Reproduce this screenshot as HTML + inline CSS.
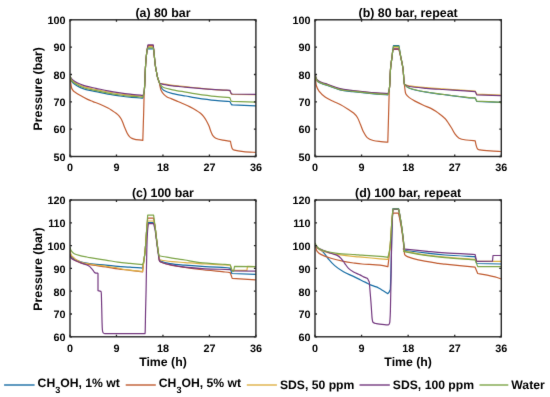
<!DOCTYPE html><html><head><meta charset="utf-8"><style>html,body{margin:0;padding:0;background:#fff;}svg{display:block;}text{font-family:"Liberation Sans",sans-serif;font-weight:bold;fill:#000000;text-rendering:geometricPrecision;}</style></head><body>
<svg width="550" height="397" viewBox="0 0 550 397">
<defs><filter id="bl" x="0" y="0" width="550" height="397" filterUnits="userSpaceOnUse" color-interpolation-filters="sRGB"><feConvolveMatrix order="3" kernelMatrix="0.0064 0.0672 0.0064 0.0672 0.7056 0.0672 0.0064 0.0672 0.0064" divisor="1" edgeMode="none" preserveAlpha="false"/></filter>
<filter id="bt" x="0" y="0" width="550" height="397" filterUnits="userSpaceOnUse" color-interpolation-filters="sRGB"><feConvolveMatrix order="3" kernelMatrix="0.0049 0.0602 0.0049 0.0602 0.7396 0.0602 0.0049 0.0602 0.0049" divisor="1" edgeMode="none" preserveAlpha="false"/></filter>
<clipPath id="cpa"><rect x="70.00" y="19.80" width="185.90" height="136.70"/></clipPath>
<clipPath id="cpb"><rect x="315.00" y="19.80" width="186.30" height="136.70"/></clipPath>
<clipPath id="cpc"><rect x="70.00" y="200.00" width="185.90" height="136.80"/></clipPath>
<clipPath id="cpd"><rect x="315.00" y="200.00" width="186.30" height="136.80"/></clipPath>
</defs>
<rect width="550" height="397" fill="#fff"/>
<g filter="url(#bl)">
<g clip-path="url(#cpa)" fill="none" stroke-width="1.20" stroke-linejoin="round" stroke-linecap="round">
<path d="M70.30,78.50 C70.53,79.00 70.92,80.48 71.70,81.50 C72.48,82.52 73.62,83.62 75.00,84.60 C76.38,85.58 78.17,86.57 80.00,87.40 C81.83,88.23 83.33,88.88 86.00,89.60 C88.67,90.32 92.33,90.93 96.00,91.70 C99.67,92.47 104.00,93.48 108.00,94.20 C112.00,94.92 116.33,95.50 120.00,96.00 C123.67,96.50 126.20,96.83 130.00,97.20 C133.80,97.57 140.67,98.03 142.80,98.20 C143.00,97.33 143.68,95.20 144.00,93.00 C144.32,90.80 144.52,88.00 144.70,85.00 C144.88,82.00 144.95,78.33 145.10,75.00 C145.25,71.67 145.38,68.25 145.60,65.00 C145.82,61.75 146.13,58.08 146.40,55.50 C146.67,52.92 146.93,50.60 147.20,49.50 C147.47,48.40 147.87,49.00 148.00,48.90 L153.20,48.90 C153.30,49.17 153.47,47.90 153.80,50.50 C154.13,53.10 154.75,60.92 155.20,64.50 C155.65,68.08 156.08,69.77 156.50,72.00 C156.92,74.23 157.18,76.02 157.70,77.90 C158.22,79.78 159.28,82.40 159.60,83.30 C159.73,83.75 159.73,84.85 160.40,86.00 C161.07,87.15 161.55,88.93 163.60,90.20 C165.65,91.47 168.98,92.63 172.70,93.60 C176.42,94.57 182.02,95.30 185.90,96.00 C189.78,96.70 191.15,97.07 196.00,97.80 C200.85,98.53 209.35,99.78 215.00,100.40 C220.65,101.02 227.42,101.32 229.90,101.50 C230.17,102.00 231.02,103.93 231.50,104.50 C231.98,105.07 232.58,104.83 232.80,104.90 L255.70,105.80" stroke="#166CA4"/>
<path d="M70.20,77.50 C70.28,78.33 70.45,80.70 70.70,82.50 C70.95,84.30 71.23,86.88 71.70,88.30 C72.17,89.72 72.85,90.30 73.50,91.00 C74.15,91.70 74.52,91.78 75.60,92.50 C76.68,93.22 78.00,94.15 80.00,95.30 C82.00,96.45 85.43,98.35 87.60,99.40 C89.77,100.45 90.93,100.80 93.00,101.60 C95.07,102.40 97.50,103.13 100.00,104.20 C102.50,105.27 106.00,106.97 108.00,108.00 C110.00,109.03 110.65,109.53 112.00,110.40 C113.35,111.27 114.93,112.30 116.10,113.20 C117.27,114.10 118.15,114.83 119.00,115.80 C119.85,116.77 120.53,117.80 121.20,119.00 C121.87,120.20 122.40,121.53 123.00,123.00 C123.60,124.47 124.10,126.10 124.80,127.80 C125.50,129.50 126.42,131.73 127.20,133.20 C127.98,134.67 128.70,135.73 129.50,136.60 C130.30,137.47 131.08,137.95 132.00,138.40 C132.92,138.85 133.20,138.97 135.00,139.30 C136.80,139.63 141.50,140.22 142.80,140.40 C142.93,136.17 143.38,122.57 143.60,115.00 C143.82,107.43 143.92,100.00 144.10,95.00 C144.28,90.00 144.53,88.33 144.70,85.00 C144.87,81.67 144.95,78.33 145.10,75.00 C145.25,71.67 145.38,68.25 145.60,65.00 C145.82,61.75 146.13,58.08 146.40,55.50 C146.67,52.92 146.93,51.15 147.20,49.50 C147.47,47.85 147.87,46.25 148.00,45.60 L153.20,45.60 C153.30,46.50 153.47,47.85 153.80,51.00 C154.13,54.15 154.75,61.00 155.20,64.50 C155.65,68.00 156.08,69.77 156.50,72.00 C156.92,74.23 157.18,75.97 157.70,77.90 C158.22,79.83 159.28,82.65 159.60,83.60 C159.70,84.17 159.93,85.83 160.20,87.00 C160.47,88.17 160.63,89.42 161.20,90.60 C161.77,91.78 162.63,93.05 163.60,94.10 C164.57,95.15 165.75,96.15 167.00,96.90 C168.25,97.65 169.43,97.90 171.10,98.60 C172.77,99.30 175.10,100.28 177.00,101.10 C178.90,101.92 180.33,102.53 182.50,103.50 C184.67,104.47 187.75,105.78 190.00,106.90 C192.25,108.02 194.25,109.13 196.00,110.20 C197.75,111.27 199.25,112.28 200.50,113.30 C201.75,114.32 202.57,115.15 203.50,116.30 C204.43,117.45 205.20,118.62 206.10,120.20 C207.00,121.78 208.10,123.92 208.90,125.80 C209.70,127.68 210.22,129.83 210.90,131.50 C211.58,133.17 212.18,134.68 213.00,135.80 C213.82,136.92 214.18,137.47 215.80,138.20 C217.42,138.93 220.40,139.70 222.70,140.20 C225.00,140.70 228.30,140.97 229.60,141.20 C230.90,141.43 230.35,141.53 230.50,141.60 C230.63,142.25 231.00,144.33 231.30,145.50 C231.60,146.67 231.77,147.82 232.30,148.60 C232.83,149.38 232.63,149.70 234.50,150.20 C236.37,150.70 239.97,151.23 243.50,151.60 C247.03,151.97 253.67,152.27 255.70,152.40" stroke="#C05B30"/>
<path d="M70.30,77.30 C70.53,77.72 70.92,78.92 71.70,79.80 C72.48,80.68 73.62,81.70 75.00,82.60 C76.38,83.50 78.17,84.40 80.00,85.20 C81.83,86.00 83.33,86.68 86.00,87.40 C88.67,88.12 92.33,88.73 96.00,89.50 C99.67,90.27 104.00,91.25 108.00,92.00 C112.00,92.75 116.33,93.47 120.00,94.00 C123.67,94.53 126.20,94.82 130.00,95.20 C133.80,95.58 140.67,96.12 142.80,96.30 C143.00,95.75 143.68,94.88 144.00,93.00 C144.32,91.12 144.52,88.00 144.70,85.00 C144.88,82.00 144.95,78.33 145.10,75.00 C145.25,71.67 145.38,68.25 145.60,65.00 C145.82,61.75 146.13,58.08 146.40,55.50 C146.67,52.92 146.93,50.98 147.20,49.50 C147.47,48.02 147.87,47.08 148.00,46.60 L153.20,46.60 C153.30,47.25 153.47,47.52 153.80,50.50 C154.13,53.48 154.75,60.92 155.20,64.50 C155.65,68.08 156.08,69.77 156.50,72.00 C156.92,74.23 157.18,76.02 157.70,77.90 C158.22,79.78 159.28,82.40 159.60,83.30 C160.50,83.18 162.82,83.72 165.00,84.10 C167.18,84.48 169.37,84.88 172.70,85.30 C176.03,85.72 180.62,86.12 185.00,86.60 C189.38,87.08 194.00,87.68 199.00,88.20 C204.00,88.72 209.85,89.30 215.00,89.70 C220.15,90.10 227.42,90.45 229.90,90.60 C230.13,91.15 230.87,93.28 231.30,93.90 C231.73,94.52 232.30,94.23 232.50,94.30 L255.70,94.70" stroke="#DEB145"/>
<path d="M70.30,76.80 C70.53,77.13 70.92,78.02 71.70,78.80 C72.48,79.58 73.62,80.63 75.00,81.50 C76.38,82.37 78.17,83.22 80.00,84.00 C81.83,84.78 83.33,85.48 86.00,86.20 C88.67,86.92 92.33,87.52 96.00,88.30 C99.67,89.08 104.00,90.13 108.00,90.90 C112.00,91.67 116.33,92.35 120.00,92.90 C123.67,93.45 126.20,93.78 130.00,94.20 C133.80,94.62 140.67,95.20 142.80,95.40 C143.00,95.00 143.68,94.73 144.00,93.00 C144.32,91.27 144.52,88.00 144.70,85.00 C144.88,82.00 144.95,78.33 145.10,75.00 C145.25,71.67 145.38,68.25 145.60,65.00 C145.82,61.75 146.13,58.08 146.40,55.50 C146.67,52.92 146.93,51.27 147.20,49.50 C147.47,47.73 147.87,45.67 148.00,44.90 L153.20,44.90 C153.30,45.83 153.47,47.23 153.80,50.50 C154.13,53.77 154.75,60.92 155.20,64.50 C155.65,68.08 156.08,69.77 156.50,72.00 C156.92,74.23 157.18,76.02 157.70,77.90 C158.22,79.78 159.28,82.40 159.60,83.30 C160.50,83.53 162.82,84.27 165.00,84.70 C167.18,85.13 169.37,85.50 172.70,85.90 C176.03,86.30 180.62,86.68 185.00,87.10 C189.38,87.52 194.00,87.98 199.00,88.40 C204.00,88.82 209.85,89.28 215.00,89.60 C220.15,89.92 227.42,90.18 229.90,90.30 C230.13,90.85 230.87,92.98 231.30,93.60 C231.73,94.22 232.30,93.93 232.50,94.00 L255.70,94.40" stroke="#73387F"/>
<path d="M70.30,76.30 C70.53,77.02 70.92,79.38 71.70,80.60 C72.48,81.82 73.62,82.65 75.00,83.60 C76.38,84.55 78.17,85.48 80.00,86.30 C81.83,87.12 83.33,87.78 86.00,88.50 C88.67,89.22 92.33,89.83 96.00,90.60 C99.67,91.37 104.00,92.37 108.00,93.10 C112.00,93.83 116.33,94.48 120.00,95.00 C123.67,95.52 126.20,95.83 130.00,96.20 C133.80,96.57 140.67,97.03 142.80,97.20 C143.00,96.50 143.68,95.03 144.00,93.00 C144.32,90.97 144.52,88.00 144.70,85.00 C144.88,82.00 144.95,78.33 145.10,75.00 C145.25,71.67 145.38,68.25 145.60,65.00 C145.82,61.75 146.13,58.08 146.40,55.50 C146.67,52.92 146.93,50.78 147.20,49.50 C147.47,48.22 147.87,48.08 148.00,47.80 L153.20,47.80 C153.30,48.25 153.47,47.72 153.80,50.50 C154.13,53.28 154.75,60.92 155.20,64.50 C155.65,68.08 156.08,69.77 156.50,72.00 C156.92,74.23 157.18,76.02 157.70,77.90 C158.22,79.78 159.28,82.40 159.60,83.30 C159.83,83.65 160.33,84.70 161.00,85.40 C161.67,86.10 161.65,86.77 163.60,87.50 C165.55,88.23 168.98,89.03 172.70,89.80 C176.42,90.57 182.02,91.43 185.90,92.10 C189.78,92.77 191.15,93.08 196.00,93.80 C200.85,94.52 209.35,95.77 215.00,96.40 C220.65,97.03 227.42,97.40 229.90,97.60 C230.10,98.17 230.67,100.38 231.10,101.00 C231.53,101.62 232.27,101.25 232.50,101.30 L255.70,102.20" stroke="#7DA548"/>
</g>
<rect x="70.00" y="19.80" width="185.90" height="136.70" fill="none" stroke="#262626" stroke-width="1.40"/>
<path d="M70.00,156.50V154.50M70.00,19.80V21.80M116.47,156.50V154.50M116.47,19.80V21.80M162.95,156.50V154.50M162.95,19.80V21.80M209.43,156.50V154.50M209.43,19.80V21.80M255.90,156.50V154.50M255.90,19.80V21.80M70.00,156.50H72.00M255.90,156.50H253.90M70.00,129.16H72.00M255.90,129.16H253.90M70.00,101.82H72.00M255.90,101.82H253.90M70.00,74.48H72.00M255.90,74.48H253.90M70.00,47.14H72.00M255.90,47.14H253.90M70.00,19.80H72.00M255.90,19.80H253.90" stroke="#262626" stroke-width="1.30" fill="none"/>
<g clip-path="url(#cpb)" fill="none" stroke-width="1.20" stroke-linejoin="round" stroke-linecap="round">
<path d="M315.40,76.10 C315.53,76.65 315.77,78.47 316.20,79.40 C316.63,80.33 317.03,80.98 318.00,81.70 C318.97,82.42 320.32,83.03 322.00,83.70 C323.68,84.37 325.10,84.67 328.10,85.70 C331.10,86.73 335.85,88.90 340.00,89.90 C344.15,90.90 348.83,91.18 353.00,91.70 C357.17,92.22 361.00,92.60 365.00,93.00 C369.00,93.40 373.18,93.80 377.00,94.10 C380.82,94.40 386.08,94.68 387.90,94.80 C388.08,94.17 388.70,92.55 389.00,91.00 C389.30,89.45 389.50,88.17 389.70,85.50 C389.90,82.83 390.05,77.92 390.20,75.00 C390.35,72.08 390.42,70.17 390.60,68.00 C390.78,65.83 391.05,63.92 391.30,62.00 C391.55,60.08 391.87,58.33 392.10,56.50 C392.33,54.67 392.47,52.82 392.70,51.00 C392.93,49.18 393.37,46.50 393.50,45.60 L398.90,45.60 C399.22,47.50 400.12,53.18 400.80,57.00 C401.48,60.82 402.48,64.58 403.00,68.50 C403.52,72.42 403.67,77.90 403.90,80.50 C404.13,83.10 404.32,83.50 404.40,84.10 C405.22,85.20 405.65,86.93 409.30,88.20 C412.95,89.47 420.68,91.15 426.30,92.20 C431.92,93.25 436.55,93.65 443.00,94.50 C449.45,95.35 459.63,96.70 465.00,97.30 C470.37,97.90 473.50,97.97 475.20,98.10 L476.70,101.30 L500.00,102.40" stroke="#166CA4"/>
<path d="M315.30,76.00 C315.37,76.75 315.53,78.92 315.70,80.50 C315.87,82.08 315.75,83.72 316.30,85.50 C316.85,87.28 317.53,89.28 319.00,91.20 C320.47,93.12 322.73,95.32 325.10,97.00 C327.47,98.68 330.68,100.05 333.20,101.30 C335.72,102.55 337.80,103.23 340.20,104.50 C342.60,105.77 345.37,107.48 347.60,108.90 C349.83,110.32 351.97,111.57 353.60,113.00 C355.23,114.43 356.27,115.62 357.40,117.50 C358.53,119.38 359.40,121.92 360.40,124.30 C361.40,126.68 362.27,129.58 363.40,131.80 C364.53,134.02 365.57,136.15 367.20,137.60 C368.83,139.05 370.93,139.83 373.20,140.50 C375.47,141.17 378.37,141.33 380.80,141.60 C383.23,141.87 386.63,142.02 387.80,142.10 C387.92,138.08 388.27,126.35 388.50,118.00 C388.73,109.65 389.00,97.42 389.20,92.00 C389.40,86.58 389.53,88.33 389.70,85.50 C389.87,82.67 390.05,77.92 390.20,75.00 C390.35,72.08 390.42,70.17 390.60,68.00 C390.78,65.83 391.05,63.92 391.30,62.00 C391.55,60.08 391.87,58.33 392.10,56.50 C392.33,54.67 392.47,52.20 392.70,51.00 C392.93,49.80 393.37,49.58 393.50,49.30 L398.90,49.30 C399.22,50.58 400.12,54.23 400.80,57.50 C401.48,60.77 402.48,64.97 403.00,68.80 C403.52,72.63 403.67,77.88 403.90,80.50 C404.13,83.12 404.32,83.83 404.40,84.50 C404.48,85.25 404.65,87.42 404.90,89.00 C405.15,90.58 405.17,92.57 405.90,94.00 C406.63,95.43 407.78,96.42 409.30,97.60 C410.82,98.78 412.73,99.87 415.00,101.10 C417.27,102.33 420.25,103.78 422.90,105.00 C425.55,106.22 428.63,107.27 430.90,108.40 C433.17,109.53 434.98,110.80 436.50,111.80 C438.02,112.80 438.92,113.57 440.00,114.40 C441.08,115.23 442.00,115.93 443.00,116.80 C444.00,117.67 444.65,117.85 446.00,119.60 C447.35,121.35 449.58,124.87 451.10,127.30 C452.62,129.73 453.77,132.38 455.10,134.20 C456.43,136.02 457.25,137.23 459.10,138.20 C460.95,139.17 463.52,139.57 466.20,140.00 C468.88,140.43 473.70,140.67 475.20,140.80 C475.37,141.58 475.80,144.13 476.20,145.50 C476.60,146.87 476.97,148.27 477.60,149.00 C478.23,149.73 477.88,149.58 480.00,149.90 C482.12,150.22 486.90,150.63 490.30,150.90 C493.70,151.17 498.72,151.40 500.40,151.50" stroke="#C05B30"/>
<path d="M315.40,75.30 C315.53,75.85 315.77,77.67 316.20,78.60 C316.63,79.53 317.03,80.18 318.00,80.90 C318.97,81.62 320.32,82.23 322.00,82.90 C323.68,83.57 325.10,83.87 328.10,84.90 C331.10,85.93 335.85,88.10 340.00,89.10 C344.15,90.10 348.83,90.38 353.00,90.90 C357.17,91.42 361.00,91.80 365.00,92.20 C369.00,92.60 373.18,93.00 377.00,93.30 C380.82,93.60 386.08,93.88 387.90,94.00 C388.08,93.50 388.70,92.42 389.00,91.00 C389.30,89.58 389.50,88.17 389.70,85.50 C389.90,82.83 390.05,77.92 390.20,75.00 C390.35,72.08 390.42,70.17 390.60,68.00 C390.78,65.83 391.05,63.92 391.30,62.00 C391.55,60.08 391.87,58.33 392.10,56.50 C392.33,54.67 392.47,52.45 392.70,51.00 C392.93,49.55 393.37,48.33 393.50,47.80 L398.90,47.80 C399.22,49.33 400.12,53.55 400.80,57.00 C401.48,60.45 402.48,64.58 403.00,68.50 C403.52,72.42 403.67,77.90 403.90,80.50 C404.13,83.10 404.32,83.50 404.40,84.10 C405.22,84.32 405.65,85.28 409.30,85.90 C412.95,86.52 420.68,87.20 426.30,87.70 C431.92,88.20 436.55,88.47 443.00,88.90 C449.45,89.33 459.63,89.95 465.00,90.30 C470.37,90.65 473.50,90.88 475.20,91.00 L476.70,94.20 L500.50,95.10" stroke="#DEB145"/>
<path d="M315.40,74.90 C315.53,75.45 315.77,77.27 316.20,78.20 C316.63,79.13 317.03,79.78 318.00,80.50 C318.97,81.22 320.32,81.83 322.00,82.50 C323.68,83.17 325.10,83.47 328.10,84.50 C331.10,85.53 335.85,87.70 340.00,88.70 C344.15,89.70 348.83,89.98 353.00,90.50 C357.17,91.02 361.00,91.40 365.00,91.80 C369.00,92.20 373.18,92.60 377.00,92.90 C380.82,93.20 386.08,93.48 387.90,93.60 C388.08,93.17 388.70,92.35 389.00,91.00 C389.30,89.65 389.50,88.17 389.70,85.50 C389.90,82.83 390.05,77.92 390.20,75.00 C390.35,72.08 390.42,70.17 390.60,68.00 C390.78,65.83 391.05,63.92 391.30,62.00 C391.55,60.08 391.87,58.33 392.10,56.50 C392.33,54.67 392.47,52.28 392.70,51.00 C392.93,49.72 393.37,49.17 393.50,48.80 L398.90,48.80 C399.22,50.17 400.12,53.72 400.80,57.00 C401.48,60.28 402.48,64.58 403.00,68.50 C403.52,72.42 403.67,77.90 403.90,80.50 C404.13,83.10 404.32,83.50 404.40,84.10 C405.22,84.50 405.65,85.80 409.30,86.50 C412.95,87.20 420.68,87.80 426.30,88.30 C431.92,88.80 436.55,89.07 443.00,89.50 C449.45,89.93 459.63,90.55 465.00,90.90 C470.37,91.25 473.50,91.48 475.20,91.60 L476.70,94.80 L500.50,95.70" stroke="#73387F"/>
<path d="M315.40,75.80 C315.53,76.35 315.77,78.17 316.20,79.10 C316.63,80.03 317.03,80.68 318.00,81.40 C318.97,82.12 320.32,82.73 322.00,83.40 C323.68,84.07 325.10,84.37 328.10,85.40 C331.10,86.43 335.85,88.60 340.00,89.60 C344.15,90.60 348.83,90.88 353.00,91.40 C357.17,91.92 361.00,92.30 365.00,92.70 C369.00,93.10 373.18,93.50 377.00,93.80 C380.82,94.10 386.08,94.38 387.90,94.50 C388.08,93.92 388.70,92.50 389.00,91.00 C389.30,89.50 389.50,88.17 389.70,85.50 C389.90,82.83 390.05,77.92 390.20,75.00 C390.35,72.08 390.42,70.17 390.60,68.00 C390.78,65.83 391.05,63.92 391.30,62.00 C391.55,60.08 391.87,58.33 392.10,56.50 C392.33,54.67 392.47,52.68 392.70,51.00 C392.93,49.32 393.37,47.17 393.50,46.40 L398.90,46.40 C399.22,48.17 400.12,53.32 400.80,57.00 C401.48,60.68 402.48,64.58 403.00,68.50 C403.52,72.42 403.67,77.90 403.90,80.50 C404.13,83.10 404.32,83.50 404.40,84.10 C405.22,85.00 405.65,86.73 409.30,88.00 C412.95,89.27 420.68,90.95 426.30,92.00 C431.92,93.05 436.55,93.45 443.00,94.30 C449.45,95.15 459.63,96.50 465.00,97.10 C470.37,97.70 473.50,97.77 475.20,97.90 L476.70,101.10 C480.42,101.27 495.03,101.82 499.00,102.10 C502.97,102.38 500.25,102.68 500.50,102.80" stroke="#7DA548"/>
</g>
<rect x="315.00" y="19.80" width="186.30" height="136.70" fill="none" stroke="#262626" stroke-width="1.40"/>
<path d="M315.00,156.50V154.50M315.00,19.80V21.80M361.57,156.50V154.50M361.57,19.80V21.80M408.15,156.50V154.50M408.15,19.80V21.80M454.73,156.50V154.50M454.73,19.80V21.80M501.30,156.50V154.50M501.30,19.80V21.80M315.00,156.50H317.00M501.30,156.50H499.30M315.00,129.16H317.00M501.30,129.16H499.30M315.00,101.82H317.00M501.30,101.82H499.30M315.00,74.48H317.00M501.30,74.48H499.30M315.00,47.14H317.00M501.30,47.14H499.30M315.00,19.80H317.00M501.30,19.80H499.30" stroke="#262626" stroke-width="1.30" fill="none"/>
<g clip-path="url(#cpc)" fill="none" stroke-width="1.20" stroke-linejoin="round" stroke-linecap="round">
<path d="M70.20,252.40 C70.47,253.23 70.07,255.82 71.80,257.40 C73.53,258.98 77.57,260.87 80.60,261.90 C83.63,262.93 85.80,263.07 90.00,263.60 C94.20,264.13 101.13,264.63 105.80,265.10 C110.47,265.57 113.97,266.07 118.00,266.40 C122.03,266.73 125.90,266.82 130.00,267.10 C134.10,267.38 140.50,267.93 142.60,268.10 C142.82,266.83 143.50,263.18 143.90,260.50 C144.30,257.82 144.65,255.42 145.00,252.00 C145.35,248.58 145.70,244.00 146.00,240.00 C146.30,236.00 146.52,230.92 146.80,228.00 C147.08,225.08 147.55,223.42 147.70,222.50 L153.60,222.50 C153.83,223.08 154.58,223.83 155.00,226.00 C155.42,228.17 155.72,232.33 156.10,235.50 C156.48,238.67 156.92,242.08 157.30,245.00 C157.68,247.92 158.08,250.67 158.40,253.00 C158.72,255.33 159.07,258.00 159.20,259.00 C159.50,259.37 159.18,260.43 161.00,261.20 C162.82,261.97 166.10,262.93 170.10,263.60 C174.10,264.27 179.18,264.68 185.00,265.20 C190.82,265.72 198.33,266.32 205.00,266.70 C211.67,267.08 220.78,267.25 225.00,267.50 C229.22,267.75 229.42,268.08 230.30,268.20 L231.80,273.50 L255.70,274.30" stroke="#166CA4"/>
<path d="M70.20,253.60 C70.47,254.40 70.07,256.85 71.80,258.40 C73.53,259.95 77.57,261.87 80.60,262.90 C83.63,263.93 85.80,263.93 90.00,264.60 C94.20,265.27 101.13,266.18 105.80,266.90 C110.47,267.62 113.97,268.33 118.00,268.90 C122.03,269.47 125.90,269.80 130.00,270.30 C134.10,270.80 140.50,271.63 142.60,271.90 C142.82,270.00 143.50,263.82 143.90,260.50 C144.30,257.18 144.65,255.42 145.00,252.00 C145.35,248.58 145.70,244.00 146.00,240.00 C146.30,236.00 146.52,231.63 146.80,228.00 C147.08,224.37 147.55,219.83 147.70,218.20 L153.60,218.20 C153.83,219.50 154.58,223.12 155.00,226.00 C155.42,228.88 155.72,232.33 156.10,235.50 C156.48,238.67 156.92,242.08 157.30,245.00 C157.68,247.92 158.08,250.50 158.40,253.00 C158.72,255.50 159.07,258.83 159.20,260.00 C159.50,260.33 159.18,261.17 161.00,262.00 C162.82,262.83 166.07,264.08 170.10,265.00 C174.13,265.92 180.22,266.75 185.20,267.50 C190.18,268.25 193.37,268.75 200.00,269.50 C206.63,270.25 219.95,271.47 225.00,272.00 C230.05,272.53 229.42,272.58 230.30,272.70 L232.20,278.40 L255.70,279.90" stroke="#C05B30"/>
<path d="M70.20,250.00 C70.47,250.97 70.07,253.80 71.80,255.80 C73.53,257.80 77.57,260.63 80.60,262.00 C83.63,263.37 85.80,263.28 90.00,264.00 C94.20,264.72 101.13,265.63 105.80,266.30 C110.47,266.97 114.80,267.45 118.00,268.00 C121.20,268.55 120.90,269.03 125.00,269.60 C129.10,270.17 139.67,271.10 142.60,271.40 C142.82,269.58 143.50,263.73 143.90,260.50 C144.30,257.27 144.65,255.42 145.00,252.00 C145.35,248.58 145.70,244.00 146.00,240.00 C146.30,236.00 146.52,231.17 146.80,228.00 C147.08,224.83 147.55,222.17 147.70,221.00 L153.60,221.00 C153.83,221.83 154.58,223.58 155.00,226.00 C155.42,228.42 155.72,232.33 156.10,235.50 C156.48,238.67 156.92,242.08 157.30,245.00 C157.68,247.92 158.08,250.75 158.40,253.00 C158.72,255.25 159.07,257.58 159.20,258.50 C159.50,258.75 158.87,259.48 161.00,260.00 C163.13,260.52 167.97,261.17 172.00,261.60 C176.03,262.03 179.70,262.20 185.20,262.60 C190.70,263.00 198.37,263.62 205.00,264.00 C211.63,264.38 220.78,264.68 225.00,264.90 C229.22,265.12 229.42,265.23 230.30,265.30 L232.00,270.40 L246.90,270.40 L247.50,266.40 L255.70,266.60" stroke="#DEB145"/>
<path d="M70.20,254.80 C70.47,255.47 70.07,257.50 71.80,258.80 C73.53,260.10 78.08,261.57 80.60,262.60 C83.12,263.63 85.50,264.42 86.90,265.00 C88.30,265.58 88.37,265.67 89.00,266.10 C89.63,266.53 90.02,266.88 90.70,267.60 C91.38,268.32 92.45,269.58 93.10,270.40 C93.75,271.22 94.10,272.05 94.60,272.50 C95.10,272.95 95.62,273.00 96.10,273.10 C96.58,273.20 97.27,273.10 97.50,273.10 L98.00,273.40 L98.00,290.60 L100.90,291.30 C100.98,291.92 101.22,290.22 101.40,295.00 C101.58,299.78 101.83,314.17 102.00,320.00 C102.17,325.83 102.18,327.83 102.40,330.00 C102.62,332.17 102.83,332.40 103.30,333.00 C103.77,333.60 104.88,333.50 105.20,333.60 L144.70,333.60 C144.78,333.20 145.05,335.13 145.20,331.20 C145.35,327.27 145.45,316.87 145.60,310.00 C145.75,303.13 145.90,300.00 146.10,290.00 C146.30,280.00 146.57,259.67 146.80,250.00 C147.03,240.33 147.23,236.40 147.50,232.00 C147.77,227.60 148.25,225.00 148.40,223.60 L153.60,223.60 C153.83,224.58 154.58,227.18 155.00,229.50 C155.42,231.82 155.72,234.58 156.10,237.50 C156.48,240.42 156.92,244.08 157.30,247.00 C157.68,249.92 158.07,252.75 158.40,255.00 C158.73,257.25 159.15,259.58 159.30,260.50 C159.58,260.80 159.20,261.60 161.00,262.30 C162.80,263.00 166.07,263.88 170.10,264.70 C174.13,265.52 179.38,266.52 185.20,267.20 C191.02,267.88 198.37,268.43 205.00,268.80 C211.63,269.17 220.78,269.25 225.00,269.40 C229.22,269.55 229.42,269.65 230.30,269.70 L232.50,270.80 L255.70,271.20" stroke="#73387F"/>
<path d="M70.20,247.50 C70.33,247.97 70.32,249.27 71.00,250.30 C71.68,251.33 72.80,252.82 74.30,253.70 C75.80,254.58 77.90,255.05 80.00,255.60 C82.10,256.15 85.23,256.65 86.90,257.00 C88.57,257.35 86.85,257.18 90.00,257.70 C93.15,258.22 101.13,259.37 105.80,260.10 C110.47,260.83 113.97,261.55 118.00,262.10 C122.03,262.65 125.90,262.98 130.00,263.40 C134.10,263.82 140.50,264.40 142.60,264.60 C142.82,263.92 143.50,262.60 143.90,260.50 C144.30,258.40 144.65,255.42 145.00,252.00 C145.35,248.58 145.70,244.00 146.00,240.00 C146.30,236.00 146.52,232.13 146.80,228.00 C147.08,223.87 147.55,217.33 147.70,215.20 L153.60,215.20 C153.83,217.00 154.58,222.62 155.00,226.00 C155.42,229.38 155.72,232.33 156.10,235.50 C156.48,238.67 156.92,242.08 157.30,245.00 C157.68,247.92 158.08,251.17 158.40,253.00 C158.72,254.83 159.07,255.50 159.20,256.00 C159.42,256.00 157.83,255.57 160.50,256.00 C163.17,256.43 171.12,257.93 175.20,258.60 C179.28,259.27 180.87,259.33 185.00,260.00 C189.13,260.67 193.33,261.87 200.00,262.60 C206.67,263.33 219.95,264.03 225.00,264.40 C230.05,264.77 229.42,264.73 230.30,264.80 L232.20,271.20 L233.70,271.20 L234.50,266.30 L255.70,266.70" stroke="#7DA548"/>
</g>
<rect x="70.00" y="200.00" width="185.90" height="136.80" fill="none" stroke="#262626" stroke-width="1.40"/>
<path d="M70.00,336.80V334.80M70.00,200.00V202.00M116.47,336.80V334.80M116.47,200.00V202.00M162.95,336.80V334.80M162.95,200.00V202.00M209.43,336.80V334.80M209.43,200.00V202.00M255.90,336.80V334.80M255.90,200.00V202.00M70.00,336.80H72.00M255.90,336.80H253.90M70.00,314.00H72.00M255.90,314.00H253.90M70.00,291.20H72.00M255.90,291.20H253.90M70.00,268.40H72.00M255.90,268.40H253.90M70.00,245.60H72.00M255.90,245.60H253.90M70.00,222.80H72.00M255.90,222.80H253.90M70.00,200.00H72.00M255.90,200.00H253.90" stroke="#262626" stroke-width="1.30" fill="none"/>
<g clip-path="url(#cpd)" fill="none" stroke-width="1.20" stroke-linejoin="round" stroke-linecap="round">
<path d="M315.40,245.00 C315.47,245.33 315.28,246.37 315.80,247.00 C316.32,247.63 317.45,248.12 318.50,248.80 C319.55,249.48 320.93,250.10 322.10,251.10 C323.27,252.10 324.45,253.48 325.50,254.80 C326.55,256.12 326.87,257.20 328.40,259.00 C329.93,260.80 332.18,263.47 334.70,265.60 C337.22,267.73 340.57,270.08 343.50,271.80 C346.43,273.52 349.55,274.60 352.30,275.90 C355.05,277.20 357.77,278.52 360.00,279.60 C362.23,280.68 364.07,281.57 365.70,282.40 C367.33,283.23 368.02,283.85 369.80,284.60 C371.58,285.35 374.77,286.23 376.40,286.90 C378.03,287.57 377.70,287.47 379.60,288.60 C381.50,289.73 386.43,292.85 387.80,293.70 C388.02,293.43 388.68,292.78 389.10,292.10 C389.52,291.42 390.10,290.02 390.30,289.60 C390.42,286.33 390.77,278.27 391.00,270.00 C391.23,261.73 391.45,249.17 391.70,240.00 C391.95,230.83 392.28,220.23 392.50,215.00 C392.72,209.77 392.92,209.67 393.00,208.60 L398.60,208.60 C398.77,209.42 399.10,210.60 399.60,213.50 C400.10,216.40 401.00,221.82 401.60,226.00 C402.20,230.18 402.80,235.10 403.20,238.60 C403.60,242.10 403.77,245.13 404.00,247.00 C404.23,248.87 404.50,249.33 404.60,249.80 C404.75,249.92 401.72,249.93 405.50,250.50 C409.28,251.07 420.72,252.45 427.30,253.20 C433.88,253.95 437.03,254.43 445.00,255.00 C452.97,255.57 470.08,256.33 475.10,256.60 L476.60,263.50 L500.90,264.00" stroke="#166CA4"/>
<path d="M315.40,245.50 C315.47,245.85 315.53,246.65 315.80,247.60 C316.07,248.55 316.17,250.07 317.00,251.20 C317.83,252.33 318.48,253.22 320.80,254.40 C323.12,255.58 327.12,257.13 330.90,258.30 C334.68,259.47 339.48,260.58 343.50,261.40 C347.52,262.22 351.92,262.77 355.00,263.20 C358.08,263.63 357.83,263.67 362.00,264.00 C366.17,264.33 375.68,264.77 380.00,265.20 C384.32,265.63 386.58,266.37 387.90,266.60 C388.07,265.17 388.60,260.77 388.90,258.00 C389.20,255.23 389.47,252.17 389.70,250.00 C389.93,247.83 390.07,247.83 390.30,245.00 C390.53,242.17 390.85,236.83 391.10,233.00 C391.35,229.17 391.57,224.92 391.80,222.00 C392.03,219.08 392.28,216.97 392.50,215.50 C392.72,214.03 393.00,213.58 393.10,213.20 L398.40,213.20 C398.58,214.00 398.97,215.37 399.50,218.00 C400.03,220.63 400.98,225.17 401.60,229.00 C402.22,232.83 402.80,237.58 403.20,241.00 C403.60,244.42 403.77,247.25 404.00,249.50 C404.23,251.75 404.50,253.67 404.60,254.50 C405.05,254.85 405.03,255.70 407.30,256.60 C409.57,257.50 413.35,258.82 418.20,259.90 C423.05,260.98 431.93,262.38 436.40,263.10 C440.87,263.82 438.55,263.52 445.00,264.20 C451.45,264.88 470.08,266.70 475.10,267.20 L477.70,273.50 C479.28,273.77 484.32,274.53 487.20,275.10 C490.08,275.67 492.72,276.28 495.00,276.90 C497.28,277.52 499.92,278.48 500.90,278.80" stroke="#C05B30"/>
<path d="M315.40,244.50 C315.53,244.83 315.50,245.62 316.20,246.50 C316.90,247.38 317.80,248.80 319.60,249.80 C321.40,250.80 324.07,251.73 327.00,252.50 C329.93,253.27 332.53,253.70 337.20,254.40 C341.87,255.10 350.87,256.25 355.00,256.70 C359.13,257.15 357.83,256.73 362.00,257.10 C366.17,257.47 375.68,258.50 380.00,258.90 C384.32,259.30 386.58,259.40 387.90,259.50 C388.13,258.25 388.92,254.42 389.30,252.00 C389.68,249.58 389.90,248.17 390.20,245.00 C390.50,241.83 390.83,236.83 391.10,233.00 C391.37,229.17 391.58,225.08 391.80,222.00 C392.02,218.92 392.20,216.62 392.40,214.50 C392.60,212.38 392.90,210.17 393.00,209.30 L398.60,209.30 C398.77,210.08 399.10,211.15 399.60,214.00 C400.10,216.85 401.00,222.27 401.60,226.40 C402.20,230.53 402.80,235.37 403.20,238.80 C403.60,242.23 403.77,245.00 404.00,247.00 C404.23,249.00 404.50,250.17 404.60,250.80 C404.75,250.88 401.72,250.57 405.50,251.30 C409.28,252.03 420.72,254.22 427.30,255.20 C433.88,256.18 437.03,256.50 445.00,257.20 C452.97,257.90 470.08,259.03 475.10,259.40 L476.80,261.40 L500.90,261.40" stroke="#DEB145"/>
<path d="M315.40,244.00 C315.47,244.28 315.10,244.88 315.80,245.70 C316.50,246.52 317.08,247.63 319.60,248.90 C322.12,250.17 327.97,252.22 330.90,253.30 C333.83,254.38 335.52,254.57 337.20,255.40 C338.88,256.23 339.75,256.98 341.00,258.30 C342.25,259.62 343.45,261.62 344.70,263.30 C345.95,264.98 347.02,266.95 348.50,268.40 C349.98,269.85 351.68,270.92 353.60,272.00 C355.52,273.08 358.33,274.08 360.00,274.90 C361.67,275.72 362.37,276.33 363.60,276.90 C364.83,277.47 366.77,278.07 367.40,278.30 L369.30,282.00 C369.58,285.45 370.52,296.52 371.00,302.70 C371.48,308.88 371.80,315.80 372.20,319.10 C372.60,322.40 372.70,321.75 373.40,322.50 C374.10,323.25 374.55,323.25 376.40,323.60 C378.25,323.95 382.47,324.40 384.50,324.60 C386.53,324.80 387.72,325.18 388.60,324.80 C389.48,324.42 389.60,322.72 389.80,322.30 C389.90,320.42 390.20,318.05 390.40,311.00 C390.60,303.95 390.78,291.83 391.00,280.00 C391.22,268.17 391.45,250.67 391.70,240.00 C391.95,229.33 392.28,221.10 392.50,216.00 C392.72,210.90 392.92,210.50 393.00,209.40 L398.60,209.40 C398.77,210.25 399.10,211.57 399.60,214.50 C400.10,217.43 401.00,222.92 401.60,227.00 C402.20,231.08 402.80,235.67 403.20,239.00 C403.60,242.33 403.77,245.33 404.00,247.00 C404.23,248.67 404.50,248.67 404.60,249.00 C404.67,249.02 401.22,248.70 405.00,249.10 C408.78,249.50 420.63,250.77 427.30,251.40 C433.97,252.03 437.03,252.38 445.00,252.90 C452.97,253.42 470.08,254.23 475.10,254.50 L476.60,261.40 L492.50,261.20 L493.00,255.50 L500.90,255.50" stroke="#73387F"/>
<path d="M315.40,243.30 C315.53,243.63 315.50,244.37 316.20,245.30 C316.90,246.23 317.80,247.87 319.60,248.90 C321.40,249.93 324.07,250.77 327.00,251.50 C329.93,252.23 332.53,252.78 337.20,253.30 C341.87,253.82 350.87,254.28 355.00,254.60 C359.13,254.92 357.83,254.90 362.00,255.20 C366.17,255.50 375.68,256.05 380.00,256.40 C384.32,256.75 386.58,257.15 387.90,257.30 C388.13,256.42 388.92,254.05 389.30,252.00 C389.68,249.95 389.90,248.17 390.20,245.00 C390.50,241.83 390.83,236.83 391.10,233.00 C391.37,229.17 391.58,225.08 391.80,222.00 C392.02,218.92 392.20,216.67 392.40,214.50 C392.60,212.33 392.90,209.92 393.00,209.00 L398.60,209.00 C398.77,209.83 399.10,211.10 399.60,214.00 C400.10,216.90 401.00,222.27 401.60,226.40 C402.20,230.53 402.80,235.37 403.20,238.80 C403.60,242.23 403.77,244.97 404.00,247.00 C404.23,249.03 404.50,250.33 404.60,251.00 C404.75,251.13 401.72,251.03 405.50,251.80 C409.28,252.57 420.72,254.63 427.30,255.60 C433.88,256.57 437.03,256.90 445.00,257.60 C452.97,258.30 470.08,259.43 475.10,259.80 L477.70,266.60 L500.90,266.60" stroke="#7DA548"/>
</g>
<rect x="315.00" y="200.00" width="186.30" height="136.80" fill="none" stroke="#262626" stroke-width="1.40"/>
<path d="M315.00,336.80V334.80M315.00,200.00V202.00M361.57,336.80V334.80M361.57,200.00V202.00M408.15,336.80V334.80M408.15,200.00V202.00M454.73,336.80V334.80M454.73,200.00V202.00M501.30,336.80V334.80M501.30,200.00V202.00M315.00,336.80H317.00M501.30,336.80H499.30M315.00,314.00H317.00M501.30,314.00H499.30M315.00,291.20H317.00M501.30,291.20H499.30M315.00,268.40H317.00M501.30,268.40H499.30M315.00,245.60H317.00M501.30,245.60H499.30M315.00,222.80H317.00M501.30,222.80H499.30M315.00,200.00H317.00M501.30,200.00H499.30" stroke="#262626" stroke-width="1.30" fill="none"/>
<line x1="4.10" y1="385.00" x2="34.60" y2="385.00" stroke="#166CA4" stroke-width="1.40"/>
<line x1="125.70" y1="385.00" x2="155.80" y2="385.00" stroke="#C05B30" stroke-width="1.40"/>
<line x1="246.80" y1="385.00" x2="276.90" y2="385.00" stroke="#DEB145" stroke-width="1.40"/>
<line x1="359.50" y1="385.00" x2="389.80" y2="385.00" stroke="#73387F" stroke-width="1.40"/>
<line x1="479.50" y1="385.00" x2="508.30" y2="385.00" stroke="#7DA548" stroke-width="1.40"/>
</g>
<g filter="url(#bt)">
<text x="70.00" y="171.00" font-size="10.80" text-anchor="middle">0</text>
<text x="116.47" y="171.00" font-size="10.80" text-anchor="middle">9</text>
<text x="162.95" y="171.00" font-size="10.80" text-anchor="middle">18</text>
<text x="209.43" y="171.00" font-size="10.80" text-anchor="middle">27</text>
<text x="255.90" y="171.00" font-size="10.80" text-anchor="middle">36</text>
<text x="65.60" y="160.82" font-size="10.80" text-anchor="end">50</text>
<text x="65.60" y="133.48" font-size="10.80" text-anchor="end">60</text>
<text x="65.60" y="106.14" font-size="10.80" text-anchor="end">70</text>
<text x="65.60" y="78.80" font-size="10.80" text-anchor="end">80</text>
<text x="65.60" y="51.46" font-size="10.80" text-anchor="end">90</text>
<text x="65.60" y="24.12" font-size="10.80" text-anchor="end">100</text>
<text x="162.95" y="16.60" font-size="12.40" text-anchor="middle">(a) 80 bar</text>
<text transform="translate(41.90,88.75) rotate(-90)" font-size="12.30" text-anchor="middle">Pressure (bar)</text>
<text x="315.00" y="171.00" font-size="10.80" text-anchor="middle">0</text>
<text x="361.57" y="171.00" font-size="10.80" text-anchor="middle">9</text>
<text x="408.15" y="171.00" font-size="10.80" text-anchor="middle">18</text>
<text x="454.73" y="171.00" font-size="10.80" text-anchor="middle">27</text>
<text x="501.30" y="171.00" font-size="10.80" text-anchor="middle">36</text>
<text x="310.60" y="160.82" font-size="10.80" text-anchor="end">50</text>
<text x="310.60" y="133.48" font-size="10.80" text-anchor="end">60</text>
<text x="310.60" y="106.14" font-size="10.80" text-anchor="end">70</text>
<text x="310.60" y="78.80" font-size="10.80" text-anchor="end">80</text>
<text x="310.60" y="51.46" font-size="10.80" text-anchor="end">90</text>
<text x="310.60" y="24.12" font-size="10.80" text-anchor="end">100</text>
<text x="408.15" y="16.60" font-size="12.40" text-anchor="middle">(b) 80 bar, repeat</text>
<text x="70.00" y="352.00" font-size="10.80" text-anchor="middle">0</text>
<text x="116.47" y="352.00" font-size="10.80" text-anchor="middle">9</text>
<text x="162.95" y="352.00" font-size="10.80" text-anchor="middle">18</text>
<text x="209.43" y="352.00" font-size="10.80" text-anchor="middle">27</text>
<text x="255.90" y="352.00" font-size="10.80" text-anchor="middle">36</text>
<text x="65.60" y="341.12" font-size="10.80" text-anchor="end">60</text>
<text x="65.60" y="318.32" font-size="10.80" text-anchor="end">70</text>
<text x="65.60" y="295.52" font-size="10.80" text-anchor="end">80</text>
<text x="65.60" y="272.72" font-size="10.80" text-anchor="end">90</text>
<text x="65.60" y="249.92" font-size="10.80" text-anchor="end">100</text>
<text x="65.60" y="227.12" font-size="10.80" text-anchor="end">110</text>
<text x="65.60" y="204.32" font-size="10.80" text-anchor="end">120</text>
<text x="162.95" y="196.80" font-size="12.40" text-anchor="middle">(c) 100 bar</text>
<text transform="translate(41.90,269.00) rotate(-90)" font-size="12.30" text-anchor="middle">Pressure (bar)</text>
<text x="162.95" y="365.90" font-size="12.30" text-anchor="middle">Time (h)</text>
<text x="315.00" y="352.00" font-size="10.80" text-anchor="middle">0</text>
<text x="361.57" y="352.00" font-size="10.80" text-anchor="middle">9</text>
<text x="408.15" y="352.00" font-size="10.80" text-anchor="middle">18</text>
<text x="454.73" y="352.00" font-size="10.80" text-anchor="middle">27</text>
<text x="501.30" y="352.00" font-size="10.80" text-anchor="middle">36</text>
<text x="310.60" y="341.12" font-size="10.80" text-anchor="end">60</text>
<text x="310.60" y="318.32" font-size="10.80" text-anchor="end">70</text>
<text x="310.60" y="295.52" font-size="10.80" text-anchor="end">80</text>
<text x="310.60" y="272.72" font-size="10.80" text-anchor="end">90</text>
<text x="310.60" y="249.92" font-size="10.80" text-anchor="end">100</text>
<text x="310.60" y="227.12" font-size="10.80" text-anchor="end">110</text>
<text x="310.60" y="204.32" font-size="10.80" text-anchor="end">120</text>
<text x="408.15" y="196.80" font-size="12.40" text-anchor="middle">(d) 100 bar, repeat</text>
<text x="408.15" y="365.90" font-size="12.30" text-anchor="middle">Time (h)</text>
<text x="37.60" y="386.80" font-size="12.20">CH<tspan font-size="9.1" dy="6.2">3</tspan><tspan dy="-6.2">OH, 1% wt</tspan></text>
<text x="158.80" y="386.80" font-size="12.20">CH<tspan font-size="9.1" dy="6.2">3</tspan><tspan dy="-6.2">OH, 5% wt</tspan></text>
<text x="279.90" y="389.00" font-size="12.20">SDS, 50 ppm</text>
<text x="392.80" y="389.00" font-size="12.20">SDS, 100 ppm</text>
<text x="511.30" y="389.00" font-size="12.20">Water</text>
</g>
</svg></body></html>
